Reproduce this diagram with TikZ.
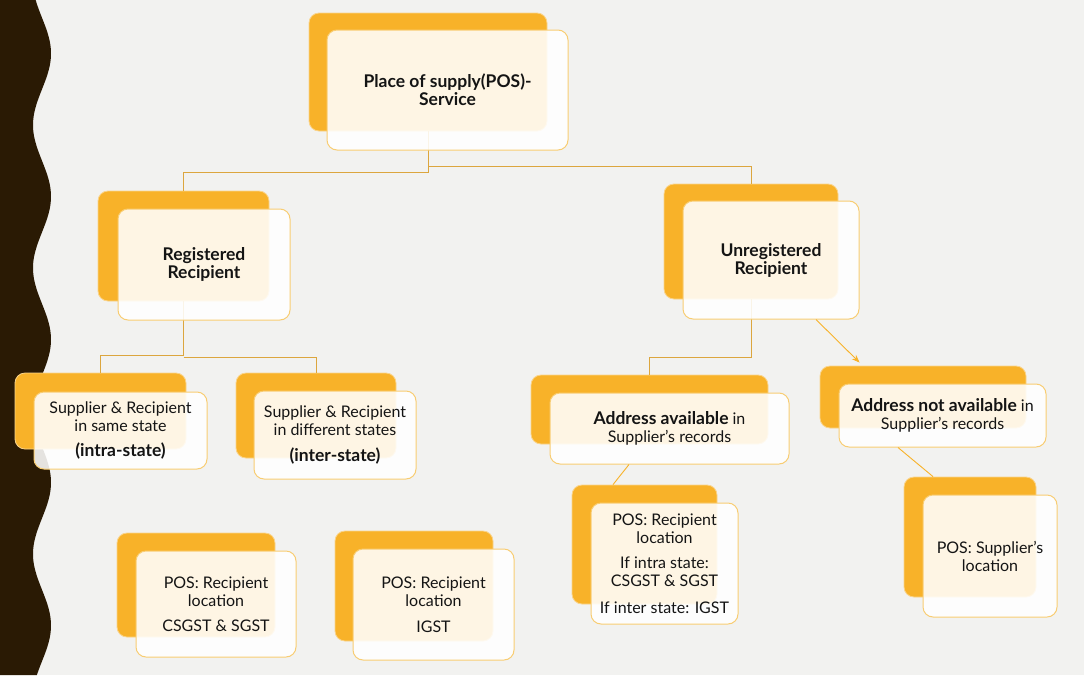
\documentclass[tikz,border=0pt]{standalone}
\usepackage{fontspec}
\setmainfont{Lato}
\usetikzlibrary{arrows.meta,calc}
\definecolor{bg}{HTML}{F2F2F0}
\definecolor{band}{HTML}{2A1A04}
\definecolor{org}{HTML}{F8B229}
\definecolor{edgeB}{HTML}{FAD48A}
\definecolor{edgeF}{HTML}{F8CD73}
\definecolor{conn}{HTML}{DCA63E}
\definecolor{txt}{HTML}{141414}
\newcommand{\bt}[1]{{\fontsize{17.5}{18}\selectfont\bfseries #1}}
\tikzset{
 backbox/.style={draw=edgeB, line width=0.8pt, fill=org, rounded corners=10pt, inner sep=0pt},
 frontbox/.style={draw=edgeF, line width=1pt, fill=white, fill opacity=0.88, text opacity=1,
   rounded corners=10pt, align=center, text=txt, font=\fontsize{16}{18}\selectfont, inner sep=0pt},
 link/.style={draw=conn, line width=1pt},
 diag/.style={draw=org, line width=0.9pt},
}
\begin{document}
\begin{tikzpicture}[x=1pt,y=1pt]
\useasboundingbox (0,0) rectangle (1084,-675);
\fill[bg] (0,0) rectangle (1084,-675);
\fill[band] plot[domain=0:675, samples=240] ({42-9*cos(2.5175*(\x-125))}, {-\x}) -- (0,-675) -- (0,0) -- cycle;

% back boxes
\node[backbox, minimum width=238pt, minimum height=118pt] (topB) at (428,-72) {};
\node[backbox, minimum width=171pt, minimum height=110pt] (regB) at (183.5,-246) {};
\node[backbox, minimum width=174pt, minimum height=115pt] (unregB) at (751,-241.5) {};
\node[backbox, minimum width=171pt, minimum height=76pt] (intraB) at (100.5,-411) {};
\node[backbox, minimum width=160pt, minimum height=85pt] (interB) at (316,-415.5) {};
\node[backbox, minimum width=237pt, minimum height=69pt] (addrB) at (649.5,-409.5) {};
\node[backbox, minimum width=206pt, minimum height=62pt] (naddrB) at (923,-397) {};
\node[backbox, minimum width=145pt, minimum height=119pt] (posAB) at (644.5,-544.5) {};
\node[backbox, minimum width=132pt, minimum height=120pt] (posSB) at (970,-537) {};
\node[backbox, minimum width=158pt, minimum height=104pt] (posIB) at (196,-585) {};
\node[backbox, minimum width=158pt, minimum height=110pt] (posGB) at (414,-586) {};

% connectors
\coordinate (j1) at (0,-172);
\coordinate (j2) at (0,-166);
\coordinate (j3) at (0,-355);
\coordinate (j4) at (0,-357);
\coordinate (j5) at (0,-357);
\draw[link] (topB.south) -- (topB.south |- j1) -| (regB.north);
\draw[link] (topB.south |- j2) -| (unregB.north);
\draw[link] (regB.south) -- (regB.south |- j3) -| (intraB.north);
\draw[link] (regB.south |- j4) -| (interB.north);
\draw[link] (unregB.south) -- (unregB.south |- j5) -| (addrB.north);

% front boxes
\node[frontbox, minimum width=241pt, minimum height=120pt] (topF) at (447.5,-90) {\bt{Place of supply(POS)-}\\\bt{Service}};
\node[frontbox, minimum width=172pt, minimum height=111pt] (regF) at (204,-264.5) {\bt{Registered}\\\bt{Recipient}};
\node[frontbox, minimum width=176pt, minimum height=118pt] (unregF) at (771,-260) {\bt{Unregistered}\\\bt{Recipient}};

\draw[diag, -{Stealth[length=8pt,width=6pt]}] ($(unregF.south)+(45,0)$) -- ($(naddrB.north west)+(40,3)$);

\node[frontbox, minimum width=173pt, minimum height=77pt] (intraF) at (120.5,-430.5) {Supplier \& Recipient\\in same state\\[7pt]\bt{(intra-state)}};
\node[frontbox, minimum width=162pt, minimum height=88pt] (interF) at (335,-435) {Supplier \& Recipient\\in different states\\[8pt]\bt{(inter-state)}};
\node[frontbox, minimum width=239pt, minimum height=71pt] (addrF) at (669.5,-428.5) {\bt{Address available} in\\Supplier’s records};
\node[frontbox, minimum width=207pt, minimum height=63pt] (naddrF) at (942.5,-415.5) {\bt{Address not available} in\\Supplier’s records};

\draw[diag] ($(addrF.south)+(-40.5,0)$) -- ($(posAB.north)+(-31.5,0)$);
\draw[diag] ($(naddrF.south)+(-44.5,0)$) -- ($(posSB.north)+(-37,0)$);

\node[frontbox, minimum width=147pt, minimum height=121pt] (posAF) at (664.5,-563.5) {POS: Recipient\\location\\[7pt]If intra state:\\CSGST \& SGST\\[9pt]If inter state: IGST};
\node[frontbox, minimum width=134pt, minimum height=122pt] (posSF) at (990,-556) {POS: Supplier’s\\location};
\node[frontbox, minimum width=160pt, minimum height=106pt] (posIF) at (216,-604) {POS: Recipient\\location\\[7pt]CSGST \& SGST};
\node[frontbox, minimum width=161pt, minimum height=111pt] (posGF) at (433.5,-604.5) {POS: Recipient\\location\\[8pt]IGST};
\end{tikzpicture}
\end{document}
